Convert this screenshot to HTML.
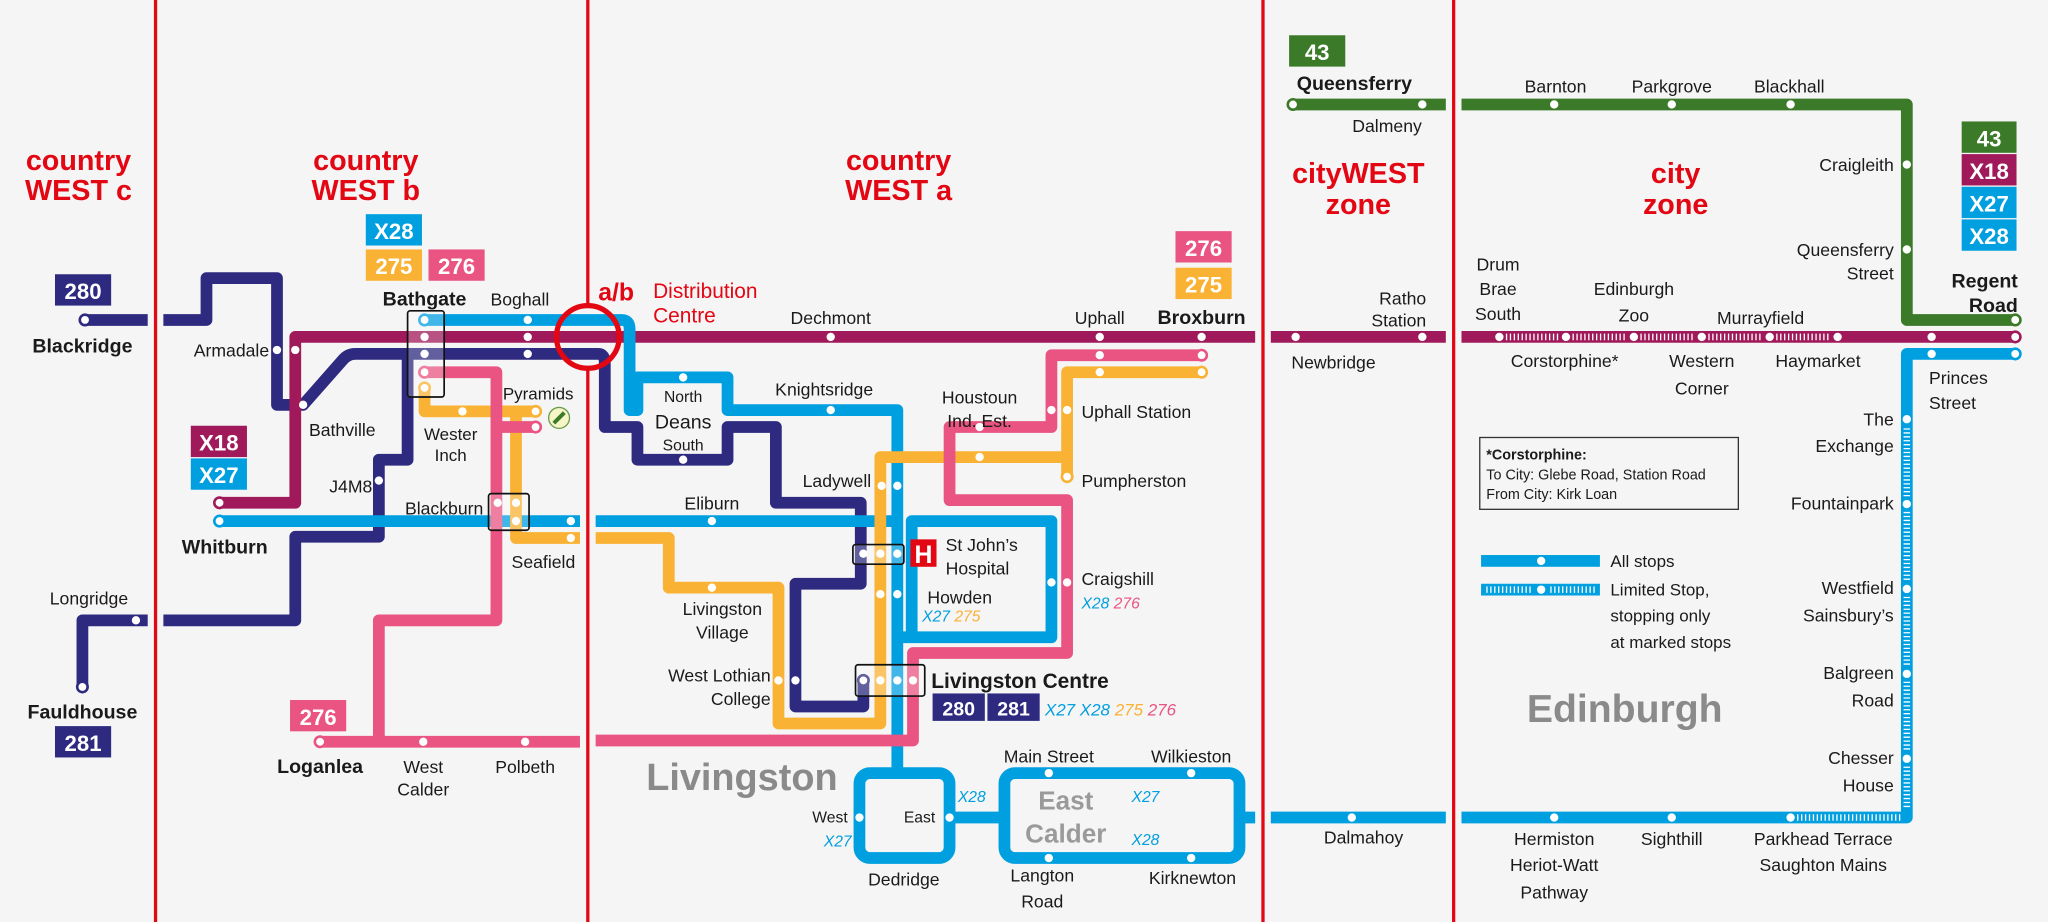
<!DOCTYPE html>
<html><head><meta charset="utf-8"><style>
html,body{margin:0;padding:0;background:#f5f5f5}
svg{display:block}
text{font-family:"Liberation Sans",sans-serif;fill:#1a1a1a;font-size:13.5px}
.b{font-weight:bold}
.z{fill:#e30613;font-weight:bold;font-size:22px;text-anchor:middle}
.bd{fill:#fff;font-weight:bold;font-size:17px;text-anchor:middle}
.m{text-anchor:middle}.e{text-anchor:end}
.i{font-style:italic;font-size:12px}
</style></head><body>
<svg width="2048" height="922" viewBox="0 0 1568 706" xmlns="http://www.w3.org/2000/svg">
<rect width="1568" height="706" fill="#f5f5f5"/>
<g fill="none" stroke-width="9" stroke-linejoin="round" stroke-linecap="butt">
<path stroke="#2e2a7f" d="M65,245 H158 V213 H212 V310 H232 L262,276 Q266,271 272,271 H458 Q463,271 463,278 V327 H488 V352 H557 V327 H594 V385 H659 V447 H609 V541 H661 V521"/>
<path stroke="#2e2a7f" d="M63,526 V475 H226 V411 H290 V352 H312 V271"/>
<path stroke="#a0195a" d="M168,385 H226 V258 H1543"/>
<path stroke="#009fe0" d="M168,399 H687"/>
<path stroke="#009fe0" d="M325,245 H476 Q482,245 482,252 V314 H488 V289 H557 V314 H687 V594"/>
<path stroke="#009fe0" d="M687,488 H805 V399 H698 V488"/>
<rect x="658" y="592" width="69" height="65" rx="8" stroke="#009fe0"/>
<rect x="769" y="592" width="180" height="65" rx="8" stroke="#009fe0"/>
<path stroke="#009fe0" d="M727,626 H769 M949,626 H1460 V271 H1543"/>
<path stroke="#f9b233" d="M325,297 V315 H410 M395,315 V412 H445 M455,412 H512 V450 H596 V554 H674 V350 H817 M817,365 V285 H920"/>
<path stroke="#e95482" d="M325,285 H380 V475 H290 V568 M245,568 H445 M380,327 H410 M455,567 H699 V500 H817 V383 H727 V327 H805 V272 H920"/>
<path stroke="#3a7a28" d="M990,80 H1460 V245 H1543"/>
</g>
<g stroke="#fff" stroke-width="5" stroke-dasharray="1 2" fill="none">
<path d="M1153,258 H1194 M1204,258 H1246 M1256,258 H1298 M1308,258 H1350 M1360,258 H1402"/>
<path d="M1460,328 V380 M1460,392 V445 M1460,457 V510 M1460,522 V575 M1460,587 V620 M1376,626 H1455"/>
</g>
<g stroke-width="12" stroke="#f5f5f5">
<line x1="119" y1="0" x2="119" y2="706"/><line x1="450" y1="0" x2="450" y2="233"/><line x1="450" y1="283" x2="450" y2="706"/>
<line x1="967" y1="0" x2="967" y2="706"/><line x1="1113" y1="0" x2="1113" y2="706"/>
</g>
<g stroke-width="2.5" stroke="#e30613">
<line x1="119" y1="0" x2="119" y2="706"/><line x1="450" y1="0" x2="450" y2="233"/><line x1="450" y1="283" x2="450" y2="706"/>
<line x1="967" y1="0" x2="967" y2="706"/><line x1="1113" y1="0" x2="1113" y2="706"/>
</g>
<circle cx="450" cy="258" r="24" fill="none" stroke="#e30613" stroke-width="4"/>
<g fill="#fff">
<circle cx="212" cy="268" r="3.2"/><circle cx="226" cy="268" r="3.2"/><circle cx="232" cy="310" r="3.2"/>
<circle cx="325" cy="258" r="3.2"/><circle cx="325" cy="271" r="3.2"/>
<circle cx="404" cy="245" r="3.2"/><circle cx="404" cy="258" r="3.2"/><circle cx="404" cy="271" r="3.2"/>
<circle cx="290" cy="368" r="3.2"/><circle cx="104" cy="475" r="3.2"/><circle cx="354" cy="315" r="3.2"/>
<circle cx="381" cy="385" r="3.2"/><circle cx="395" cy="385" r="3.2"/><circle cx="395" cy="399" r="3.2"/>
<circle cx="437" cy="399" r="3.2"/><circle cx="437" cy="412" r="3.2"/>
<circle cx="324" cy="568" r="3.2"/><circle cx="402" cy="568" r="3.2"/>
<circle cx="636" cy="258" r="3.2"/><circle cx="842" cy="258" r="3.2"/><circle cx="842" cy="272" r="3.2"/><circle cx="842" cy="285" r="3.2"/><circle cx="920" cy="258" r="3.2"/>
<circle cx="523" cy="289" r="3.2"/><circle cx="523" cy="352" r="3.2"/><circle cx="636" cy="314" r="3.2"/>
<circle cx="750" cy="327" r="3.2"/><circle cx="750" cy="350" r="3.2"/><circle cx="805" cy="314" r="3.2"/><circle cx="817" cy="314" r="3.2"/>
<circle cx="675" cy="372" r="3.2"/><circle cx="687" cy="372" r="3.2"/><circle cx="545" cy="399" r="3.2"/>
<circle cx="661" cy="424" r="3.2"/><circle cx="674" cy="424" r="3.2"/><circle cx="687" cy="424" r="3.2"/>
<circle cx="674" cy="455" r="3.2"/><circle cx="687" cy="455" r="3.2"/><circle cx="805" cy="446" r="3.2"/><circle cx="817" cy="446" r="3.2"/>
<circle cx="545" cy="450" r="3.2"/><circle cx="596" cy="521" r="3.2"/><circle cx="609" cy="521" r="3.2"/>
<circle cx="674" cy="521" r="3.2"/><circle cx="687" cy="521" r="3.2"/><circle cx="699" cy="521" r="3.2"/>
<circle cx="658" cy="626" r="3.2"/><circle cx="727" cy="626" r="3.2"/>
<circle cx="803" cy="592" r="3.2"/><circle cx="912" cy="592" r="3.2"/><circle cx="803" cy="657" r="3.2"/><circle cx="912" cy="657" r="3.2"/>
<circle cx="1035" cy="626" r="3.2"/><circle cx="1190" cy="626" r="3.2"/><circle cx="1280" cy="626" r="3.2"/><circle cx="1371" cy="626" r="3.2"/>
<circle cx="1460" cy="321" r="3.2"/><circle cx="1460" cy="386" r="3.2"/><circle cx="1460" cy="451" r="3.2"/><circle cx="1460" cy="516" r="3.2"/><circle cx="1460" cy="581" r="3.2"/>
<circle cx="1479" cy="271" r="3.2"/>
<circle cx="992" cy="258" r="3.2"/><circle cx="1089" cy="258" r="3.2"/><circle cx="1148" cy="258" r="3.2"/><circle cx="1199" cy="258" r="3.2"/><circle cx="1251" cy="258" r="3.2"/><circle cx="1303" cy="258" r="3.2"/><circle cx="1355" cy="258" r="3.2"/><circle cx="1407" cy="258" r="3.2"/><circle cx="1479" cy="258" r="3.2"/>
<circle cx="1089" cy="80" r="3.2"/><circle cx="1190" cy="80" r="3.2"/><circle cx="1280" cy="80" r="3.2"/><circle cx="1371" cy="80" r="3.2"/>
<circle cx="1460" cy="126" r="3.2"/><circle cx="1460" cy="191" r="3.2"/>
</g>
<g fill="#fff" stroke-width="2">
<circle cx="65" cy="245" r="4" stroke="#2e2a7f"/><circle cx="63" cy="526" r="4" stroke="#2e2a7f"/><circle cx="661" cy="521" r="4" stroke="#2e2a7f"/>
<circle cx="168" cy="385" r="4" stroke="#a0195a"/><circle cx="168" cy="399" r="4" stroke="#009fe0"/>
<circle cx="325" cy="245" r="4" stroke="#009fe0"/><circle cx="325" cy="285" r="4" stroke="#e95482"/><circle cx="325" cy="297" r="4" stroke="#f9b233"/>
<circle cx="410" cy="315" r="4" stroke="#f9b233"/><circle cx="410" cy="327" r="4" stroke="#e95482"/>
<circle cx="245" cy="568" r="4" stroke="#e95482"/>
<circle cx="920" cy="272" r="4" stroke="#e95482"/><circle cx="920" cy="285" r="4" stroke="#f9b233"/><circle cx="817" cy="365" r="4" stroke="#f9b233"/>
<circle cx="990" cy="80" r="4" stroke="#3a7a28"/><circle cx="1543" cy="245" r="4" stroke="#3a7a28"/><circle cx="1543" cy="258" r="4" stroke="#a0195a"/><circle cx="1543" cy="271" r="4" stroke="#009fe0"/>
</g>
<g fill="rgba(255,255,255,0.25)" stroke="#111" stroke-width="1.3">
<rect x="312" y="238" width="28" height="66" rx="2"/>
<rect x="374" y="378" width="31" height="28" rx="2"/>
<rect x="653" y="417" width="39" height="15" rx="2"/>
<rect x="655" y="509" width="53" height="24" rx="2"/>
</g>
<rect x="697" y="413" width="20" height="21" fill="#e30613"/>
<text x="707" y="431" class="b m" style="fill:#fff;font-size:19px">H</text>
<circle cx="428" cy="320" r="8" fill="#f5f5c8" stroke="#6a9a4a" stroke-width="1"/>
<line x1="424" y1="324" x2="432" y2="316" stroke="#3a7a28" stroke-width="3"/>
<text x="60" y="130" class="z">country</text><text x="60" y="153" class="z">WEST c</text>
<text x="280" y="130" class="z">country</text><text x="280" y="153" class="z">WEST b</text>
<text x="688" y="130" class="z">country</text><text x="688" y="153" class="z">WEST a</text>
<text x="1040" y="140" class="z">cityWEST</text><text x="1040" y="164" class="z">zone</text>
<text x="1283" y="140" class="z">city</text><text x="1283" y="164" class="z">zone</text>
<text x="458" y="230" class="b" style="fill:#e30613;font-size:19px">a/b</text>
<text x="500" y="228" style="fill:#e30613;font-size:16px">Distribution</text>
<text x="500" y="247" style="fill:#e30613;font-size:16px">Centre</text>
<g>
<rect x="42" y="210" width="43" height="24" fill="#2e2a7f"/><text x="63.5" y="229" class="bd">280</text>
<rect x="42" y="556" width="43" height="24" fill="#2e2a7f"/><text x="63.5" y="575" class="bd">281</text>
<rect x="280" y="164" width="43" height="24" fill="#009fe0"/><text x="301.5" y="183" class="bd">X28</text>
<rect x="280" y="191" width="43" height="24" fill="#f9b233"/><text x="301.5" y="210" class="bd">275</text>
<rect x="328" y="191" width="43" height="24" fill="#e95482"/><text x="349.5" y="210" class="bd">276</text>
<rect x="146" y="326" width="43" height="24" fill="#a0195a"/><text x="167.5" y="345" class="bd">X18</text>
<rect x="146" y="351" width="43" height="24" fill="#009fe0"/><text x="167.5" y="370" class="bd">X27</text>
<rect x="222" y="536" width="43" height="24" fill="#e95482"/><text x="243.5" y="555" class="bd">276</text>
<rect x="900" y="177" width="43" height="24" fill="#e95482"/><text x="921.5" y="196" class="bd">276</text>
<rect x="900" y="205" width="43" height="24" fill="#f9b233"/><text x="921.5" y="224" class="bd">275</text>
<rect x="987" y="27" width="43" height="24" fill="#3a7a28"/><text x="1008.5" y="46" class="bd">43</text>
<rect x="1502" y="93" width="42" height="24" fill="#3a7a28"/><text x="1523" y="112" class="bd">43</text>
<rect x="1502" y="118" width="42" height="24" fill="#a0195a"/><text x="1523" y="137" class="bd">X18</text>
<rect x="1502" y="143" width="42" height="24" fill="#009fe0"/><text x="1523" y="162" class="bd">X27</text>
<rect x="1502" y="168" width="42" height="24" fill="#009fe0"/><text x="1523" y="187" class="bd">X28</text>
<rect x="714" y="531" width="40" height="21" fill="#2e2a7f"/><text x="734" y="548" class="bd" style="font-size:15px">280</text>
<rect x="756" y="531" width="40" height="21" fill="#2e2a7f"/><text x="776" y="548" class="bd" style="font-size:15px">281</text>
</g>
<text x="63" y="270" class="b m" style="font-size:15px">Blackridge</text>
<text x="206" y="273" class="e">Armadale</text>
<text x="262" y="334" class="m">Bathville</text>
<text x="285" y="377" class="e">J4M8</text>
<text x="172" y="424" class="b m" style="font-size:15px">Whitburn</text>
<text x="68" y="463" class="m">Longridge</text>
<text x="63" y="550" class="b m" style="font-size:15px">Fauldhouse</text>
<text x="325" y="234" class="b m" style="font-size:15px">Bathgate</text>
<text x="398" y="234" class="m">Boghall</text>
<text x="412" y="306" class="m" style="font-size:13px">Pyramids</text>
<text x="345" y="337" class="m" style="font-size:13px">Wester</text>
<text x="345" y="353" class="m" style="font-size:13px">Inch</text>
<text x="370" y="394" class="e">Blackburn</text>
<text x="416" y="435" class="m">Seafield</text>
<text x="245" y="592" class="b m" style="font-size:15px">Loganlea</text>
<text x="324" y="592" class="m">West</text><text x="324" y="609" class="m">Calder</text>
<text x="402" y="592" class="m">Polbeth</text>
<text x="568" y="605" class="b m" style="fill:#8a8a8a;font-size:29px">Livingston</text>
<text x="636" y="248" class="m">Dechmont</text>
<text x="842" y="248" class="m">Uphall</text>
<text x="920" y="248" class="b m" style="font-size:15px">Broxburn</text>
<text x="523" y="308" class="m" style="font-size:12px">North</text>
<text x="523" y="328" class="m" style="font-size:15px">Deans</text>
<text x="523" y="345" class="m" style="font-size:12px">South</text>
<text x="631" y="303" class="m">Knightsridge</text>
<text x="750" y="309" class="m">Houstoun</text><text x="750" y="327" class="m">Ind. Est.</text>
<text x="828" y="320">Uphall Station</text>
<text x="828" y="373">Pumpherston</text>
<text x="667" y="373" class="e">Ladywell</text>
<text x="545" y="390" class="m">Eliburn</text>
<text x="724" y="422">St John’s</text><text x="724" y="440">Hospital</text>
<text x="710" y="462">Howden</text>
<text x="706" y="476" class="i" style="fill:#009fe0">X27 <tspan style="fill:#f9b233">275</tspan></text>
<text x="828" y="448">Craigshill</text>
<text x="828" y="466" class="i" style="fill:#009fe0">X28 <tspan style="fill:#e95482">276</tspan></text>
<text x="553" y="471" class="m">Livingston</text><text x="553" y="489" class="m">Village</text>
<text x="590" y="522" class="e">West Lothian</text><text x="590" y="540" class="e">College</text>
<text x="713" y="527" class="b" style="font-size:16px">Livingston Centre</text>
<text x="800" y="548" class="i" style="fill:#009fe0;font-size:13px">X27 X28 <tspan style="fill:#f9b233">275</tspan> <tspan style="fill:#e95482">276</tspan></text>
<text x="803" y="584" class="m">Main Street</text>
<text x="912" y="584" class="m">Wilkieston</text>
<text x="798" y="675" class="m">Langton</text><text x="798" y="695" class="m">Road</text>
<text x="913" y="677" class="m">Kirknewton</text>
<text x="816" y="620" class="b m" style="fill:#9a9a9a;font-size:20px">East</text>
<text x="816" y="645" class="b m" style="fill:#9a9a9a;font-size:20px">Calder</text>
<text x="744" y="614" class="i m" style="fill:#009fe0">X28</text>
<text x="877" y="614" class="i m" style="fill:#009fe0">X27</text>
<text x="877" y="647" class="i m" style="fill:#009fe0">X28</text>
<text x="649" y="630" class="e" style="font-size:12px">West</text>
<text x="652" y="648" class="i e" style="fill:#009fe0">X27</text>
<text x="716" y="630" class="e" style="font-size:12px">East</text>
<text x="692" y="678" class="m">Dedridge</text>
<text x="1044" y="646" class="m">Dalmahoy</text>
<text x="1037" y="69" class="b m" style="font-size:15px">Queensferry</text>
<text x="1062" y="101" class="m">Dalmeny</text>
<text x="1092" y="233" class="e">Ratho</text><text x="1092" y="250" class="e">Station</text>
<text x="1021" y="282" class="m">Newbridge</text>
<text x="1191" y="71" class="m">Barnton</text>
<text x="1280" y="71" class="m">Parkgrove</text>
<text x="1370" y="71" class="m">Blackhall</text>
<text x="1450" y="131" class="e">Craigleith</text>
<text x="1450" y="196" class="e">Queensferry</text><text x="1450" y="214" class="e">Street</text>
<text x="1545" y="220" class="b e" style="font-size:15px">Regent</text><text x="1545" y="239" class="b e" style="font-size:15px">Road</text>
<text x="1147" y="207" class="m">Drum</text><text x="1147" y="226" class="m">Brae</text><text x="1147" y="245" class="m">South</text>
<text x="1251" y="226" class="m">Edinburgh</text><text x="1251" y="246" class="m">Zoo</text>
<text x="1348" y="248" class="m">Murrayfield</text>
<text x="1198" y="281" class="m">Corstorphine*</text>
<text x="1303" y="281" class="m">Western</text><text x="1303" y="302" class="m">Corner</text>
<text x="1392" y="281" class="m">Haymarket</text>
<text x="1477" y="294">Princes</text><text x="1477" y="313">Street</text>
<text x="1450" y="326" class="e">The</text><text x="1450" y="346" class="e">Exchange</text>
<text x="1450" y="390" class="e">Fountainpark</text>
<text x="1450" y="455" class="e">Westfield</text><text x="1450" y="476" class="e">Sainsbury’s</text>
<text x="1450" y="520" class="e">Balgreen</text><text x="1450" y="541" class="e">Road</text>
<text x="1450" y="585" class="e">Chesser</text><text x="1450" y="606" class="e">House</text>
<text x="1190" y="647" class="m">Hermiston</text><text x="1190" y="667" class="m">Heriot-Watt</text><text x="1190" y="688" class="m">Pathway</text>
<text x="1280" y="647" class="m">Sighthill</text>
<text x="1396" y="647" class="m">Parkhead Terrace</text><text x="1396" y="667" class="m">Saughton Mains</text>
<text x="1244" y="553" class="b m" style="fill:#8a8a8a;font-size:30px">Edinburgh</text>
<rect x="1133" y="335" width="198" height="55" fill="none" stroke="#333" stroke-width="1"/>
<text x="1138" y="352" class="b" style="font-size:11px">*Corstorphine:</text>
<text x="1138" y="367" style="font-size:11px">To City: Glebe Road, Station Road</text>
<text x="1138" y="382" style="font-size:11px">From City: Kirk Loan</text>
<rect x="1134" y="425" width="91" height="9" fill="#009fe0"/><circle cx="1180" cy="429.5" r="3.2" fill="#fff"/>
<text x="1233" y="434" style="font-size:13px">All stops</text>
<rect x="1134" y="447" width="91" height="9" fill="#009fe0"/>
<path d="M1138,451.5 H1173 M1187,451.5 H1222" stroke="#fff" stroke-width="5" stroke-dasharray="1 2"/>
<circle cx="1180" cy="451.5" r="3.2" fill="#fff"/>
<text x="1233" y="456" style="font-size:13px">Limited Stop,</text>
<text x="1233" y="476" style="font-size:13px">stopping only</text>
<text x="1233" y="496" style="font-size:13px">at marked stops</text>
</svg>
</body></html>
